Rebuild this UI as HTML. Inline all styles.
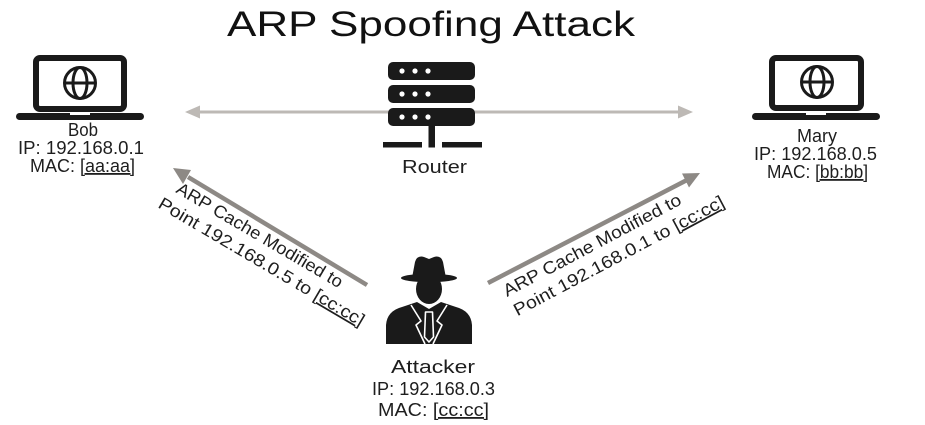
<!DOCTYPE html>
<html>
<head>
<meta charset="utf-8">
<style>
  html,body{margin:0;padding:0;background:#fff;}
  svg{display:block;}
  text{font-family:"Liberation Sans", Arial, sans-serif;fill:#1e1e1e;}
</style>
</head>
<body>
<svg width="925" height="425" viewBox="0 0 925 425" xmlns="http://www.w3.org/2000/svg">
  <rect width="925" height="425" fill="#fff"/>

  <!-- Title -->
  <text x="227" y="36" font-size="35.5" textLength="408" lengthAdjust="spacingAndGlyphs" style="fill:#111">ARP Spoofing Attack</text>

  <!-- Horizontal double arrow -->
  <line x1="197" y1="112" x2="681" y2="112" stroke="#bdb9b5" stroke-width="3"/>
  <polygon points="185,112 200,105.5 200,118.5" fill="#bdb9b5"/>
  <polygon points="693,112 678,105.5 678,118.5" fill="#bdb9b5"/>

  <!-- Bob laptop -->
  <rect x="36" y="58" width="88" height="51" rx="4" fill="#fff" stroke="#1a1a1a" stroke-width="6"/>
  <rect x="16" y="113" width="128" height="7" rx="3.5" fill="#1a1a1a"/>
  <rect x="70" y="113" width="20" height="2" fill="#fff"/>
  <g fill="none" stroke="#1a1a1a" stroke-width="3">
    <circle cx="80" cy="83" r="15.5"/>
    <ellipse cx="80" cy="83" rx="7" ry="15.5"/>
    <line x1="64.5" y1="83" x2="95.5" y2="83"/>
  </g>
  <text x="68" y="136" font-size="18" textLength="30" lengthAdjust="spacingAndGlyphs">Bob</text>
  <text x="18" y="154" font-size="18" textLength="126" lengthAdjust="spacingAndGlyphs">IP: 192.168.0.1</text>
  <text x="30" y="172" font-size="18" textLength="105" lengthAdjust="spacingAndGlyphs">MAC: <tspan style="text-decoration:underline">[aa:aa]</tspan></text>

  <!-- Mary laptop -->
  <rect x="772" y="58" width="89" height="50" rx="4" fill="#fff" stroke="#1a1a1a" stroke-width="6"/>
  <rect x="752" y="113" width="128" height="7" rx="3.5" fill="#1a1a1a"/>
  <rect x="806" y="113" width="20" height="2" fill="#fff"/>
  <g fill="none" stroke="#1a1a1a" stroke-width="3">
    <circle cx="817" cy="82" r="15.5"/>
    <ellipse cx="817" cy="82" rx="7" ry="15.5"/>
    <line x1="801.5" y1="82" x2="832.5" y2="82"/>
  </g>
  <text x="797" y="142" font-size="18" textLength="40" lengthAdjust="spacingAndGlyphs">Mary</text>
  <text x="754" y="160" font-size="18" textLength="123" lengthAdjust="spacingAndGlyphs">IP: 192.168.0.5</text>
  <text x="767" y="178" font-size="18" textLength="101" lengthAdjust="spacingAndGlyphs">MAC: <tspan style="text-decoration:underline">[bb:bb]</tspan></text>

  <!-- Router -->
  <g fill="#1a1a1a">
    <rect x="388" y="62" width="87" height="18" rx="5"/>
    <rect x="388" y="85" width="87" height="18" rx="5"/>
    <rect x="388" y="108" width="87" height="18" rx="5"/>
    <rect x="428.5" y="125" width="6.5" height="17"/>
    <rect x="383" y="142" width="39" height="5.5"/>
    <rect x="428.5" y="142" width="6.5" height="5.5"/>
    <rect x="442" y="142" width="40" height="5.5"/>
  </g>
  <g fill="#fff">
    <circle cx="402" cy="71" r="2.6"/><circle cx="415" cy="71" r="2.6"/><circle cx="428" cy="71" r="2.6"/>
    <circle cx="402" cy="94" r="2.6"/><circle cx="415" cy="94" r="2.6"/><circle cx="428" cy="94" r="2.6"/>
    <circle cx="402" cy="117" r="2.6"/><circle cx="415" cy="117" r="2.6"/><circle cx="428" cy="117" r="2.6"/>
  </g>
  <text x="402" y="173" font-size="18" textLength="65" lengthAdjust="spacingAndGlyphs">Router</text>

  <!-- Left diagonal arrow -->
  <line x1="367" y1="285" x2="188" y2="177" stroke="#8d8985" stroke-width="4.5"/>
  <polygon points="173,168 191,170 183,184" fill="#8d8985"/>

  <!-- Right diagonal arrow -->
  <line x1="488" y1="283" x2="687" y2="180" stroke="#8d8985" stroke-width="4.5"/>
  <polygon points="700,173 689,187.5 682,173.5" fill="#8d8985"/>

  <!-- Left label -->
  <g transform="translate(175,192) rotate(30.5)">
    <text x="0" y="0" font-size="17.5" textLength="190" lengthAdjust="spacingAndGlyphs">ARP Cache Modified to</text>
    <text x="-8" y="22" font-size="17.5" textLength="236" lengthAdjust="spacingAndGlyphs">Point 192.168.0.5 to <tspan style="text-decoration:underline">[cc:cc]</tspan></text>
  </g>

  <!-- Right label -->
  <g transform="translate(507,297) rotate(-28)">
    <text x="0" y="0" font-size="17.5" textLength="199" lengthAdjust="spacingAndGlyphs">ARP Cache Modified to</text>
    <text x="0" y="22" font-size="17.5" textLength="236" lengthAdjust="spacingAndGlyphs">Point 192.168.0.1 to <tspan style="text-decoration:underline">[cc:cc]</tspan></text>
  </g>

  <!-- Attacker -->
  <g fill="#1a1a1a">
    <ellipse cx="429" cy="289" rx="13" ry="15"/>
    <path d="M412,278 L415,262 Q417,255 424,257 L429,259 L434,257 Q441,255 443,262 L446,278 Z"/>
    <ellipse cx="429" cy="278" rx="28" ry="4.2"/>
    <path d="M386,344 L386,325 Q387,311 402,307 L417,302 L429,309 L441,302 L456,307 Q471,311 472,325 L472,344 Z"/>
  </g>
  <g fill="none" stroke="#fff" stroke-width="1.6" stroke-linejoin="round">
    <path d="M411,305 L421,321 L416,325 L425,344"/>
    <path d="M447,305 L437,321 L442,325 L433,344"/>
    <path d="M425.5,312 L432.5,312 L433.5,337 L429,342 L424.5,337 Z"/>
  </g>
  <text x="391" y="373" font-size="18" textLength="84" lengthAdjust="spacingAndGlyphs">Attacker</text>
  <text x="372" y="395" font-size="18" textLength="123" lengthAdjust="spacingAndGlyphs">IP: 192.168.0.3</text>
  <text x="378" y="416" font-size="18" textLength="111" lengthAdjust="spacingAndGlyphs">MAC: <tspan style="text-decoration:underline">[cc:cc]</tspan></text>
</svg>
</body>
</html>
